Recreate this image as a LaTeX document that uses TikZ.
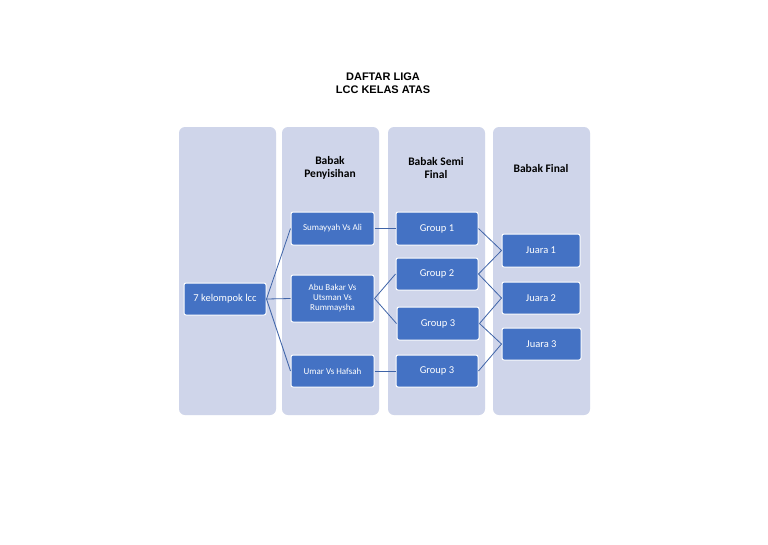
\documentclass[tikz,border=0pt]{standalone}
\usepackage{fontspec}
\setmainfont{Carlito}
\newfontfamily\arialf{Liberation Sans}
\definecolor{colbg}{HTML}{CFD5EA}
\definecolor{boxc}{HTML}{4472C4}
\definecolor{linec}{HTML}{3F64A8}
\begin{document}
\begin{tikzpicture}[x=1pt,y=-1pt,
  col/.style={fill=colbg,rounded corners=6pt},
  bx/.style={fill=boxc,draw=white,line width=1pt,rounded corners=2pt,text=white,align=center,font=\fontsize{9}{10}\selectfont},
  hdr/.style={font=\bfseries\fontsize{11.5}{13}\selectfont,align=center,text=black},
  ln/.style={draw=linec,line width=0.8pt}]
\useasboundingbox (0,0) rectangle (768,544);
\fill[white] (0,0) rectangle (768,544);
\node[font=\arialf\bfseries\fontsize{11}{13}\selectfont,align=center] (title) at (383,83) {DAFTAR LIGA\\LCC KELAS ATAS};
\path[col] (179,127) rectangle (276,415);
\path[col] (282,127) rectangle (379,415);
\path[col] (388,127) rectangle (485,415);
\path[col] (493,127) rectangle (590,415);
\node[hdr] (h2) at (330,168) {Babak\\Penyisihan};
\node[hdr] (h3) at (436,168) {Babak Semi\\Final};
\node[hdr] (h4) at (541,169) {Babak Final};
\newcommand{\bxat}[6]{\node[bx,minimum width=#4-#2,minimum height=#5-#3,inner sep=1pt] (#1) at ({(#2+#4)/2},{(#3+#5)/2}) {#6};}
\bxat{k}{184}{283}{266}{315}{\fontsize{10.5}{12}\selectfont 7 kelompok lcc}
\bxat{s}{291}{212}{374}{245}{Sumayyah Vs Ali}
\bxat{a}{291}{275}{374}{322}{Abu Bakar Vs\\Utsman Vs\\Rummaysha}
\bxat{u}{291}{355}{374}{387}{Umar Vs Hafsah}
\bxat{g1}{396}{212}{478}{245}{\fontsize{10.5}{12}\selectfont Group 1}
\bxat{g2}{396}{258}{478}{290}{\fontsize{10.5}{12}\selectfont Group 2}
\bxat{g3}{397}{307}{479}{340}{\fontsize{10.5}{12}\selectfont Group 3}
\bxat{g4}{396}{355}{478}{387}{\fontsize{10.5}{12}\selectfont Group 3}
\bxat{j1}{502}{234}{580}{267}{\fontsize{10.5}{12}\selectfont Juara 1}
\bxat{j2}{502}{282}{580}{314}{\fontsize{10.5}{12}\selectfont Juara 2}
\bxat{j3}{502}{328}{581}{360}{\fontsize{10.5}{12}\selectfont Juara 3}
\draw[ln] (k.east) -- (s.west);
\draw[ln] (k.east) -- (a.west);
\draw[ln] (k.east) -- (u.west);
\draw[ln] (s.east) -- (g1.west);
\draw[ln] (a.east) -- (g2.west);
\draw[ln] (a.east) -- (g3.west);
\draw[ln] (u.east) -- (g4.west);
\draw[ln] (g1.east) -- (j1.west);
\draw[ln] (g2.east) -- (j1.west);
\draw[ln] (g2.east) -- (j2.west);
\draw[ln] (g3.east) -- (j2.west);
\draw[ln] (g3.east) -- (j3.west);
\draw[ln] (g4.east) -- (j3.west);
\end{tikzpicture}
\end{document}
